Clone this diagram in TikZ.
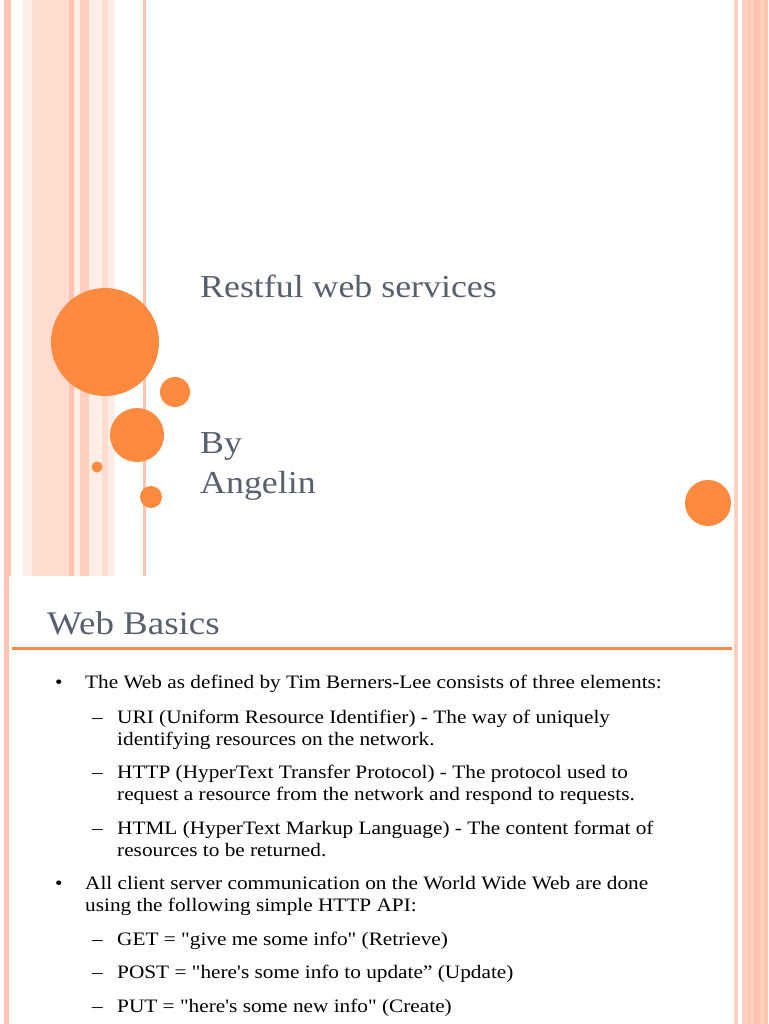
\documentclass[tikz,border=0pt]{standalone}
\usepackage{fontspec}
\setmainfont{Liberation Serif}
\newfontfamily\wide[FakeStretch=1.12]{Liberation Serif}
\newcommand{\dq}{\symbol{34}}
\begin{document}
\begin{tikzpicture}[x=1pt,y=-1pt,
 stripe/.style={fill=#1,draw=none},
 dot/.style={fill=orange1,draw=none},
 body/.style={anchor=base west,inner sep=0,font=\wide\fontsize{19}{22}\selectfont},
 ttl/.style={anchor=base west,inner sep=0,text=slate}]
\definecolor{orange1}{HTML}{FD8A3F}
\definecolor{s1}{HTML}{FFC4B0}
\definecolor{s2}{HTML}{FFEEE6}
\definecolor{s3}{HTML}{FFDBD0}
\definecolor{s4}{HTML}{FFD0C0}
\definecolor{slate}{HTML}{58606E}
\useasboundingbox (0,0) rectangle (768,1024);
\fill[white] (0,0) rectangle (768,1024);
% left stripes (top slide)
\fill[s2] (23,0) rectangle (115,576);
\fill[s3] (32,0) rectangle (69,576);
\fill[s1] (69,0) rectangle (74,576);
\fill[s4] (80,0) rectangle (89,576);
\fill[s3] (102,0) rectangle (108,576);
\fill[s1] (143,0) rectangle (146,576);
\fill[s1] (4,0) rectangle (11,1024);
% right stripes
\fill[s4] (734,0) rectangle (738,1024);
\fill[s4] (742,0) rectangle (768,1024);
\fill[s1] (748,0) rectangle (750,1024);
\fill[s1] (754,0) rectangle (768,1024);
\fill[s4] (760,0) rectangle (764,1024);
% circles
\fill[dot] (105,342) circle (54);
\fill[dot] (175,392) circle (15);
\fill[dot] (137,435) circle (27);
\fill[dot] (97,467) circle (5.5);
\fill[dot] (151,497) circle (11);
\fill[dot] (708,503) circle (23);
\node[ttl,font=\wide\fontsize{32}{36}\selectfont] (t) at (200,297) {Restful web services};
\node[ttl,font=\wide\fontsize{32}{36}\selectfont] (by) at (200,453) {By};
\node[ttl,font=\wide\fontsize{32}{36}\selectfont] (an) at (200,493) {Angelin};
% slide 2
\fill[white] (9,576) rectangle (734,1024);
\node[ttl,font=\wide\fontsize{33}{36}\selectfont] (wb) at (47,634) {Web Basics};
\fill[orange1] (12,647) rectangle (732,650);
\node[body] at (55,688) {•};
\node[body] (l1) at (85,688) {The Web as defined by Tim Berners-Lee consists of three elements:};
\node[body] at (92,723) {–}; \node[body] at (117,723) {URI (Uniform Resource Identifier) - The way of uniquely};
\node[body] at (117,745) {identifying resources on the network.};
\node[body] at (92,778) {–}; \node[body] at (117,778) {HTTP (HyperText Transfer Protocol) - The protocol used to};
\node[body] at (117,800) {request a resource from the network and respond to requests.};
\node[body] at (92,834) {–}; \node[body] at (117,834) {HTML (HyperText Markup Language) - The content format of};
\node[body] at (117,856) {resources to be returned.};
\node[body] at (55,889) {•};
\node[body] at (85,889) {All client server communication on the World Wide Web are done};
\node[body] at (85,911) {using the following simple HTTP API:};
\node[body] at (92,945) {–}; \node[body] at (117,945) {GET = \dq give me some info\dq\ (Retrieve)};
\node[body] at (92,978) {–}; \node[body] at (117,978) {POST = \dq here's some info to update” (Update)};
\node[body] at (92,1012) {–}; \node[body] at (117,1012) {PUT = \dq here's some new info\dq\ (Create)};
\end{tikzpicture}
\end{document}
